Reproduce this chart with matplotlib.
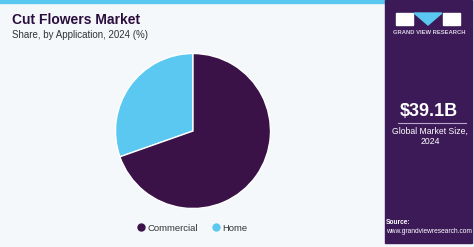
import matplotlib.pyplot as plt
from matplotlib.patches import Rectangle, Polygon
from matplotlib.lines import Line2D

plt.rcParams["font.family"] = ["Liberation Sans", "DejaVu Sans"]

labels = ["Home", "Commercial"]
shares = [30.4, 69.6]
colors = ["#5ac8f0", "#3a1248"]
legend_order = ["Commercial", "Home"]

W, H = 474, 247
fig = plt.figure(figsize=(W / 100, H / 100), dpi=100)
fig.patch.set_facecolor("#f5f8fb")


def px(x, y):
    return x / W, 1 - y / H


# top stripe and right panel
fig.patches.append(Rectangle((0, 1 - 3 / H), 385 / W, 3 / H, transform=fig.transFigure,
                             color="#5ac8f0", zorder=0))
fig.patches.append(Rectangle((385 / W, 1 - 243 / H), 87 / W, 243 / H, transform=fig.transFigure,
                             color="#3c1a58", zorder=0))

# title
fig.text(*px(12, 20), "Cut Flowers Market", fontsize=10, fontweight="bold",
         color="#2b0d3e", va="center", ha="left")
fig.text(*px(12, 35), "Share, by Application, 2024 (%)", fontsize=7,
         color="#333333", va="center", ha="left")

# pie
R = 77.5
ax = fig.add_axes([(193 - R) / W, 1 - (131 + R) / H, 2 * R / W, 2 * R / H])
ax.pie(shares, colors=colors, startangle=90, counterclock=True,
       wedgeprops=dict(edgecolor="white", linewidth=1))
ax.set_xlim(-1, 1)
ax.set_ylim(-1, 1)
ax.set_aspect("equal")

# legend
handles = [Line2D([], [], marker="o", linestyle="", markersize=5,
                  color=colors[labels.index(n)]) for n in legend_order]
fig.legend(handles, legend_order, loc="center", bbox_to_anchor=px(192, 228),
           ncol=2, frameon=False, fontsize=6.8, handletextpad=0.2, columnspacing=1.4,
           handlelength=1.0, labelcolor="#333333")

# logo
fig.patches.append(Rectangle(px(396, 25), 17 / W, 12 / H, transform=fig.transFigure,
                             color="white"))
fig.patches.append(Rectangle(px(443, 25), 17 / W, 12 / H, transform=fig.transFigure,
                             color="white"))
fig.patches.append(Polygon([px(414, 13), px(442, 13), px(428, 25)], closed=True,
                           transform=fig.transFigure, color="#5ac8f0"))
fig.text(*px(429, 32), "GRAND VIEW RESEARCH", fontsize=4.2, fontweight="bold",
         color="#d8d0e0", ha="center", va="center")

# market size
fig.text(*px(429, 111), "$39.1B", fontsize=13, fontweight="bold", color="white",
         ha="center", va="center")
fig.add_artist(Line2D([398 / W, 466 / W], [1 - 123 / H, 1 - 123 / H],
                      color="#b8a8c8", linewidth=0.8))
fig.text(*px(430, 131), "Global Market Size,", fontsize=6.2, color="white",
         ha="center", va="center")
fig.text(*px(430, 142), "2024", fontsize=6.2, color="white", ha="center", va="center")

# source
fig.text(*px(386, 222), "Source:", fontsize=4.8, fontweight="bold", color="white",
         ha="left", va="center")
fig.text(*px(386, 231), "www.grandviewresearch.com", fontsize=4.8, color="white",
         ha="left", va="center")

fig.savefig("out.png", dpi=100, facecolor=fig.get_facecolor())
